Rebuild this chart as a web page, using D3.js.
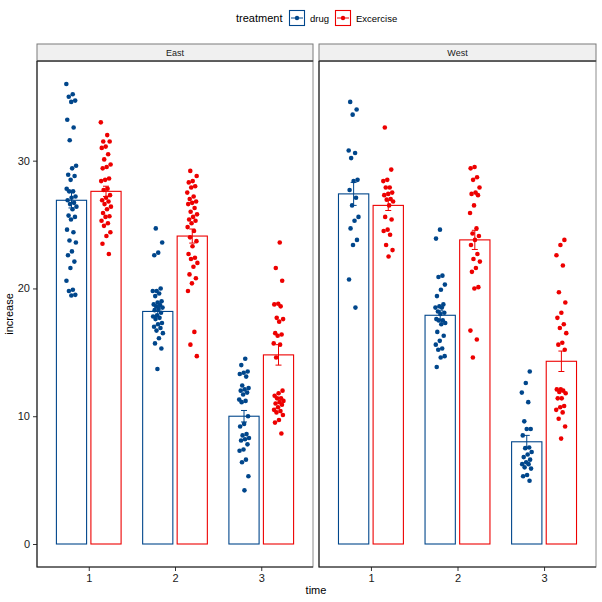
<!DOCTYPE html>
<html>
<head>
<meta charset="utf-8">
<script src="https://cdn.jsdelivr.net/npm/d3@7"></script>
<style>
  body { margin: 0; background: #fff; }
  text { font-family: "Liberation Sans", Arial, sans-serif; }
</style>
</head>
<body>
<div id="chart"></div>
<script>
// categories
var regions = ["East", "West"];
var times = ["1", "2", "3"];
var treatments = ["drug", "Excercise"];
var yTicks = [0, 10, 20, 30];

// bar heights (means) and standard errors, per time
var eastDrugMean = [26.9, 18.2, 10.0];
var eastExMean = [27.6, 24.1, 14.8];
var westDrugMean = [27.4, 17.9, 8.0];
var westExMean = [26.5, 23.8, 14.3];
var eastDrugSe = [0.6, 0.4, 0.45];
var eastExSe = [0.4, 0.55, 0.8];
var westDrugSe = [0.9, 0.35, 0.5];
var westExSe = [0.4, 0.75, 0.8];

// individual observations, per time
var eastDrug = [
  [36.0, 35.2, 35.0, 34.7, 34.6, 33.2, 32.6, 31.6, 29.6, 29.4, 28.9, 28.8, 28.5, 27.8, 27.6, 27.6, 27.2, 27.1, 26.9, 26.7,
   26.6, 26.4, 26.2, 25.7, 25.6, 25.4, 24.6, 24.4, 23.75, 23.6, 22.9, 22.6, 22.1, 21.6, 20.6, 19.9, 19.8, 19.5, 19.45],
  [24.7, 23.6, 22.8, 22.6, 20.0, 19.8, 19.8, 19.6, 19.4, 19.0, 18.9, 18.75, 18.7, 18.6, 18.5, 18.4, 18.3, 18.1, 17.9, 17.8,
   17.7, 17.6, 17.3, 17.2, 17.0, 16.9, 16.7, 16.5, 16.1, 15.7, 15.3, 13.7],
  [14.5, 14.0, 13.5, 13.4, 13.3, 13.1, 12.4, 12.2, 12.1, 12.0, 11.85, 11.7, 11.3, 11.2, 11.1, 10.0, 9.4, 9.2, 8.6, 8.5,
   8.3, 8.2, 8.1, 7.8, 7.4, 7.3, 6.6, 6.4, 5.3, 4.2]
];
var eastEx = [
  [33.0, 32.0, 31.5, 31.5, 31.1, 31.0, 30.5, 30.1, 29.7, 29.5, 29.4, 28.6, 28.5, 28.4, 27.8, 27.7, 27.3, 27.1, 26.9, 26.8,
   26.6, 26.4, 26.2, 25.9, 25.65, 25.6, 25.3, 25.1, 24.9, 24.4, 24.1, 23.5, 22.7],
  [29.2, 28.8, 28.4, 28.3, 28.0, 27.9, 27.5, 27.2, 27.0, 26.8, 26.7, 26.6, 26.3, 26.0, 25.8, 25.6, 25.4, 25.3, 25.1, 24.8,
   24.5, 24.0, 23.7, 23.3, 22.7, 22.4, 22.3, 22.0, 21.7, 21.1, 20.8, 20.4, 19.8, 16.6, 15.6, 14.7],
  [23.6, 21.6, 20.6, 18.8, 18.75, 18.6, 17.7, 17.6, 17.4, 16.5, 16.4, 16.3, 15.7, 15.6, 14.6, 12.0, 11.8, 11.6, 11.4, 11.4,
   11.2, 11.1, 11.0, 10.9, 10.7, 10.5, 10.4, 10.3, 10.1, 9.7, 9.5, 8.65]
];
var westDrug = [
  [34.6, 34.0, 33.6, 30.8, 30.6, 30.2, 28.5, 28.4, 27.7, 27.1, 26.5, 25.6, 25.3, 24.7, 23.8, 23.4, 20.7, 18.5],
  [24.6, 23.9, 21.0, 20.9, 20.3, 19.9, 19.4, 18.75, 18.6, 18.5, 18.5, 18.2, 18.1, 18.0, 17.6, 17.5, 17.5, 17.3, 17.2, 16.6,
   16.3, 15.9, 15.6, 15.3, 15.2, 14.7, 14.6, 13.85],
  [13.5, 12.6, 11.85, 11.1, 9.6, 9.0, 9.0, 8.5, 7.55, 7.5, 7.2, 7.0, 6.8, 6.6, 6.4, 6.25, 6.25, 6.0, 5.9, 5.4, 5.3, 4.95]
];
var westEx = [
  [32.6, 29.3, 28.5, 28.4, 27.9, 27.9, 27.5, 27.4, 27.3, 27.0, 26.95, 26.8, 26.5, 25.6, 25.4, 24.6, 24.5, 24.2, 23.4, 23.0, 22.5],
  [29.5, 29.4, 28.7, 28.5, 27.9, 27.5, 27.4, 27.3, 26.5, 25.9, 24.7, 24.3, 24.1, 23.8, 23.4, 22.7, 22.3, 22.1, 21.6, 21.3,
   20.1, 20.0, 16.7, 16.0, 14.6],
  [23.8, 23.4, 22.6, 21.8, 19.7, 18.9, 18.1, 17.7, 17.2, 16.9, 16.5, 15.75, 15.6, 15.2, 12.1, 12.1, 12.0, 11.9, 11.8, 11.4,
   11.4, 10.8, 10.7, 10.5, 10.3, 9.8, 9.2, 8.25]
];

function main()
{
    var W = 602, H = 602;
    var colors = {drug: "#00468B", Excercise: "#ED0000"};

    var panels = [
        {name: "East", x0: 37, x1: 313,
         groups: [{t: "drug", pts: eastDrug, mean: eastDrugMean, se: eastDrugSe},
                  {t: "Excercise", pts: eastEx, mean: eastExMean, se: eastExSe}]},
        {name: "West", x0: 319, x1: 596,
         groups: [{t: "drug", pts: westDrug, mean: westDrugMean, se: westDrugSe},
                  {t: "Excercise", pts: westEx, mean: westExMean, se: westExSe}]}
    ];

    var top = 61, bottom = 567, stripTop = 44;

    // y domain like ggplot: data range (0 .. max obs) expanded by 5%
    var allPts = [].concat(eastDrug.flat(), eastEx.flat(), westDrug.flat(), westEx.flat());
    var ymax = d3.max(allPts), pad = ymax * 0.05;
    var y = d3.scaleLinear().domain([-pad, ymax + pad]).range([bottom, top]);

    var svg = d3.select("#chart").append("svg")
        .attr("width", W).attr("height", H);

    panels.forEach(function(p, pi) {
        var x = d3.scalePoint().domain(times).range([p.x0, p.x1]).padding(0.6);
        var step = x.step();
        var dodge = d3.scaleBand().domain(treatments).range([-0.4 * step, 0.4 * step]);
        var barW = 0.35 * step;
        var g = svg.append("g");

        // panel border (grey) and strip
        g.append("rect").attr("x", p.x0).attr("y", top).attr("width", p.x1 - p.x0).attr("height", bottom - top)
            .attr("fill", "none").attr("stroke", "#8c8c8c").attr("stroke-width", 1);
        g.append("rect").attr("x", p.x0).attr("y", stripTop).attr("width", p.x1 - p.x0).attr("height", top - stripTop)
            .attr("fill", "#f0f0f0").attr("stroke", "#7a7a7a").attr("stroke-width", 1);
        g.append("line").attr("x1", p.x0).attr("x2", p.x1).attr("y1", top).attr("y2", top)
            .attr("stroke", "#444").attr("stroke-width", 1.4);
        g.append("text").attr("x", (p.x0 + p.x1) / 2).attr("y", (stripTop + top) / 2 + 3)
            .attr("text-anchor", "middle").attr("font-size", 9).attr("fill", "#1a1a1a").text(p.name);

        p.groups.forEach(function(grp) {
            var col = colors[grp.t];
            var off = dodge(grp.t) + dodge.bandwidth() / 2;

            // bars
            g.selectAll(null).data(grp.mean).enter().append("rect")
                .attr("x", function(d, i) { return x(times[i]) + off - barW / 2; })
                .attr("y", function(d) { return y(d); })
                .attr("width", barW)
                .attr("height", function(d) { return y(0) - y(d); })
                .attr("fill", "none").attr("stroke", col).attr("stroke-width", 1.1);

            // jittered points (deterministic jitter)
            grp.pts.forEach(function(arr, ti) {
                g.selectAll(null).data(arr).enter().append("circle")
                    .attr("cx", function(d, i) {
                        var j = ((i * 0.618034 + ti * 0.31 + pi * 0.17) % 1) - 0.5;
                        return x(times[ti]) + off + j * 0.12 * step;
                    })
                    .attr("cy", function(d) { return y(d); })
                    .attr("r", 2.3)
                    .attr("fill", col);
            });

            // error bars (mean +/- se)
            var eb = g.selectAll(null).data(grp.mean).enter().append("g")
                .attr("stroke", col).attr("stroke-width", 1);
            eb.append("line")
                .attr("x1", function(d, i) { return x(times[i]) + off; })
                .attr("x2", function(d, i) { return x(times[i]) + off; })
                .attr("y1", function(d, i) { return y(d - grp.se[i]); })
                .attr("y2", function(d, i) { return y(d + grp.se[i]); });
            [-1, 1].forEach(function(s) {
                eb.append("line")
                    .attr("x1", function(d, i) { return x(times[i]) + off - 3; })
                    .attr("x2", function(d, i) { return x(times[i]) + off + 3; })
                    .attr("y1", function(d, i) { return y(d + s * grp.se[i]); })
                    .attr("y2", function(d, i) { return y(d + s * grp.se[i]); });
            });
        });

        // x axis
        var xAxis = g.append("g").attr("transform", "translate(0," + bottom + ")")
            .call(d3.axisBottom(x).tickSize(4).tickPadding(3));
        xAxis.select(".domain").remove();
        xAxis.selectAll("line").attr("stroke", "#333");
        xAxis.selectAll("text").attr("font-size", 11).attr("fill", "#1a1a1a")
            .style("font-family", "Liberation Sans, Arial, sans-serif");

        // y axis only on the first panel
        if (pi === 0) {
            var yAxis = g.append("g").attr("transform", "translate(" + p.x0 + ",0)")
                .call(d3.axisLeft(y).tickValues(yTicks).tickSize(4).tickPadding(3));
            yAxis.select(".domain").remove();
            yAxis.selectAll("line").attr("stroke", "#333");
            yAxis.selectAll("text").attr("font-size", 11).attr("fill", "#1a1a1a")
                .style("font-family", "Liberation Sans, Arial, sans-serif");
        }

        // axis lines (black, left and bottom)
        g.append("path").attr("d", "M" + p.x0 + "," + top + "V" + bottom + "H" + p.x1)
            .attr("fill", "none").attr("stroke", "#1a1a1a").attr("stroke-width", 1.1);
    });

    // axis titles
    svg.append("text").attr("x", 316).attr("y", 594).attr("text-anchor", "middle")
        .attr("font-size", 11).text("time");
    svg.append("text").attr("transform", "translate(13,314) rotate(-90)").attr("text-anchor", "middle")
        .attr("font-size", 11).text("increase");

    // legend
    var leg = svg.append("g");
    leg.append("text").attr("x", 236).attr("y", 22).attr("font-size", 11).text("treatment");
    var keyX = [289, 335];
    var labX = [310, 356];
    treatments.forEach(function(t, i) {
        var col = colors[t];
        leg.append("rect").attr("x", keyX[i] + 0.5).attr("y", 10.5).attr("width", 15).attr("height", 15)
            .attr("fill", "#fff").attr("stroke", col).attr("stroke-width", 1.1);
        leg.append("line").attr("x1", keyX[i] + 2).attr("x2", keyX[i] + 14).attr("y1", 18).attr("y2", 18)
            .attr("stroke", col).attr("stroke-width", 1);
        leg.append("circle").attr("cx", keyX[i] + 8).attr("cy", 18).attr("r", 2.2).attr("fill", col);
        leg.append("text").attr("x", labX[i]).attr("y", 22).attr("font-size", 9.5).text(t);
    });
}
main();
</script>
</body>
</html>
